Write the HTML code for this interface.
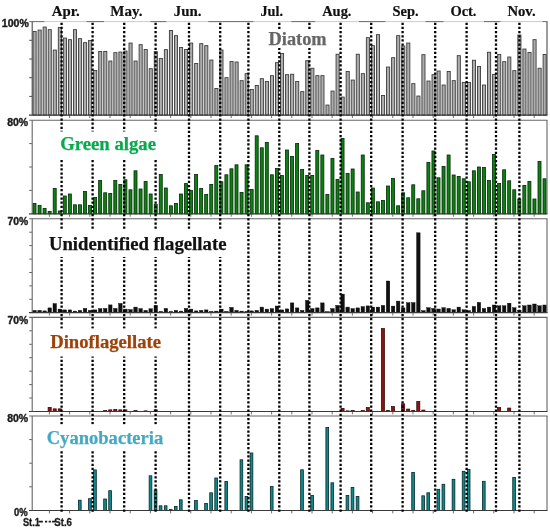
<!DOCTYPE html>
<html lang="en"><head><meta charset="utf-8"><title>Phytoplankton composition</title>
<style>html,body{margin:0;padding:0;background:#fff}svg{display:block}</style></head>
<body>
<svg width="550" height="530" viewBox="0 0 550 530">
<rect width="550" height="530" fill="#fff"/>
<g fill="#adadad" stroke="#3c3c3c" stroke-width="0.9"><rect x="33.05" y="31.45" width="3.10" height="83.65"/><rect x="38.10" y="30.05" width="3.10" height="85.05"/><rect x="43.15" y="27.05" width="3.10" height="88.05"/><rect x="48.20" y="29.65" width="3.10" height="85.45"/><rect x="53.25" y="50.05" width="3.10" height="65.05"/><rect x="58.30" y="27.45" width="3.10" height="87.65"/><rect x="63.35" y="38.05" width="3.10" height="77.05"/><rect x="68.40" y="39.65" width="3.10" height="75.45"/><rect x="73.45" y="29.65" width="3.10" height="85.45"/><rect x="78.50" y="38.65" width="3.10" height="76.45"/><rect x="83.55" y="42.65" width="3.10" height="72.45"/><rect x="88.60" y="40.45" width="3.10" height="74.65"/><rect x="93.65" y="70.45" width="3.10" height="44.65"/><rect x="98.70" y="51.45" width="3.10" height="63.65"/><rect x="103.75" y="51.45" width="3.10" height="63.65"/><rect x="108.80" y="61.05" width="3.10" height="54.05"/><rect x="113.85" y="52.65" width="3.10" height="62.45"/><rect x="118.90" y="52.05" width="3.10" height="63.05"/><rect x="123.95" y="51.05" width="3.10" height="64.05"/><rect x="129.00" y="43.05" width="3.10" height="72.05"/><rect x="134.05" y="61.05" width="3.10" height="54.05"/><rect x="139.10" y="44.65" width="3.10" height="70.45"/><rect x="144.15" y="49.45" width="3.10" height="65.65"/><rect x="149.20" y="68.65" width="3.10" height="46.45"/><rect x="154.25" y="51.65" width="3.10" height="63.45"/><rect x="159.30" y="58.45" width="3.10" height="56.65"/><rect x="164.35" y="49.65" width="3.10" height="65.45"/><rect x="169.40" y="30.45" width="3.10" height="84.65"/><rect x="174.45" y="35.65" width="3.10" height="79.45"/><rect x="179.50" y="47.45" width="3.10" height="67.65"/><rect x="184.55" y="49.45" width="3.10" height="65.65"/><rect x="189.60" y="43.05" width="3.10" height="72.05"/><rect x="194.65" y="63.45" width="3.10" height="51.65"/><rect x="199.70" y="43.65" width="3.10" height="71.45"/><rect x="204.75" y="45.65" width="3.10" height="69.45"/><rect x="209.80" y="60.05" width="3.10" height="55.05"/><rect x="214.85" y="88.45" width="3.10" height="26.65"/><rect x="219.90" y="50.05" width="3.10" height="65.05"/><rect x="224.95" y="77.65" width="3.10" height="37.45"/><rect x="230.00" y="61.45" width="3.10" height="53.65"/><rect x="235.05" y="62.05" width="3.10" height="53.05"/><rect x="240.10" y="80.65" width="3.10" height="34.45"/><rect x="245.15" y="73.65" width="3.10" height="41.45"/><rect x="250.20" y="89.45" width="3.10" height="25.65"/><rect x="255.25" y="85.45" width="3.10" height="29.65"/><rect x="260.30" y="78.65" width="3.10" height="36.45"/><rect x="265.35" y="81.45" width="3.10" height="33.65"/><rect x="270.40" y="75.65" width="3.10" height="39.45"/><rect x="275.45" y="62.65" width="3.10" height="52.45"/><rect x="280.50" y="53.45" width="3.10" height="61.65"/><rect x="285.55" y="74.65" width="3.10" height="40.45"/><rect x="290.60" y="74.25" width="3.10" height="40.85"/><rect x="295.65" y="81.45" width="3.10" height="33.65"/><rect x="300.70" y="91.65" width="3.10" height="23.45"/><rect x="305.75" y="60.65" width="3.10" height="54.45"/><rect x="310.80" y="68.25" width="3.10" height="46.85"/><rect x="315.85" y="75.65" width="3.10" height="39.45"/><rect x="320.90" y="75.65" width="3.10" height="39.45"/><rect x="325.95" y="105.05" width="3.10" height="10.05"/><rect x="331.00" y="91.05" width="3.10" height="24.05"/><rect x="336.05" y="54.25" width="3.10" height="60.85"/><rect x="341.10" y="97.05" width="3.10" height="18.05"/><rect x="346.15" y="71.45" width="3.10" height="43.65"/><rect x="351.20" y="80.05" width="3.10" height="35.05"/><rect x="356.25" y="54.25" width="3.10" height="60.85"/><rect x="361.30" y="73.65" width="3.10" height="41.45"/><rect x="366.35" y="37.65" width="3.10" height="77.45"/><rect x="371.40" y="45.65" width="3.10" height="69.45"/><rect x="376.45" y="34.65" width="3.10" height="80.45"/><rect x="381.50" y="95.45" width="3.10" height="19.65"/><rect x="386.55" y="67.05" width="3.10" height="48.05"/><rect x="391.60" y="57.65" width="3.10" height="57.45"/><rect x="396.65" y="35.65" width="3.10" height="79.45"/><rect x="401.70" y="46.05" width="3.10" height="69.05"/><rect x="406.75" y="43.05" width="3.10" height="72.05"/><rect x="411.80" y="83.65" width="3.10" height="31.45"/><rect x="416.85" y="96.05" width="3.10" height="19.05"/><rect x="421.90" y="54.65" width="3.10" height="60.45"/><rect x="426.95" y="81.05" width="3.10" height="34.05"/><rect x="432.00" y="74.65" width="3.10" height="40.45"/><rect x="437.05" y="71.05" width="3.10" height="44.05"/><rect x="442.10" y="85.05" width="3.10" height="30.05"/><rect x="447.15" y="71.45" width="3.10" height="43.65"/><rect x="452.20" y="80.65" width="3.10" height="34.45"/><rect x="457.25" y="55.65" width="3.10" height="59.45"/><rect x="462.30" y="82.45" width="3.10" height="32.65"/><rect x="467.35" y="82.45" width="3.10" height="32.65"/><rect x="472.40" y="60.25" width="3.10" height="54.85"/><rect x="477.45" y="66.45" width="3.10" height="48.65"/><rect x="482.50" y="85.05" width="3.10" height="30.05"/><rect x="487.55" y="52.25" width="3.10" height="62.85"/><rect x="492.60" y="74.45" width="3.10" height="40.65"/><rect x="497.65" y="54.45" width="3.10" height="60.65"/><rect x="502.70" y="61.65" width="3.10" height="53.45"/><rect x="507.75" y="57.05" width="3.10" height="58.05"/><rect x="512.80" y="70.65" width="3.10" height="44.45"/><rect x="517.85" y="35.05" width="3.10" height="80.05"/><rect x="522.90" y="49.05" width="3.10" height="66.05"/><rect x="527.95" y="52.45" width="3.10" height="62.65"/><rect x="533.00" y="39.65" width="3.10" height="75.45"/><rect x="538.05" y="68.25" width="3.10" height="46.85"/><rect x="543.10" y="54.45" width="3.10" height="60.65"/></g>
<g fill="#0b820f" stroke="#06280a" stroke-width="0.8"><rect x="33.00" y="203.40" width="3.00" height="10.40"/><rect x="38.05" y="205.40" width="3.00" height="8.40"/><rect x="43.10" y="208.40" width="3.00" height="5.40"/><rect x="48.15" y="211.40" width="3.00" height="2.40"/><rect x="53.20" y="188.40" width="3.00" height="25.40"/><rect x="58.25" y="211.00" width="3.00" height="2.80"/><rect x="63.30" y="196.00" width="3.00" height="17.80"/><rect x="68.35" y="194.00" width="3.00" height="19.80"/><rect x="73.40" y="204.80" width="3.00" height="9.00"/><rect x="78.45" y="204.80" width="3.00" height="9.00"/><rect x="83.50" y="191.40" width="3.00" height="22.40"/><rect x="88.55" y="205.40" width="3.00" height="8.40"/><rect x="93.60" y="197.40" width="3.00" height="16.40"/><rect x="98.65" y="180.40" width="3.00" height="33.40"/><rect x="103.70" y="192.80" width="3.00" height="21.00"/><rect x="108.75" y="193.40" width="3.00" height="20.40"/><rect x="113.80" y="180.40" width="3.00" height="33.40"/><rect x="118.85" y="184.40" width="3.00" height="29.40"/><rect x="123.90" y="179.80" width="3.00" height="34.00"/><rect x="128.95" y="189.80" width="3.00" height="24.00"/><rect x="134.00" y="170.80" width="3.00" height="43.00"/><rect x="139.05" y="189.00" width="3.00" height="24.80"/><rect x="144.10" y="181.40" width="3.00" height="32.40"/><rect x="149.15" y="194.00" width="3.00" height="19.80"/><rect x="154.20" y="204.40" width="3.00" height="9.40"/><rect x="159.25" y="174.40" width="3.00" height="39.40"/><rect x="164.30" y="188.00" width="3.00" height="25.80"/><rect x="169.35" y="205.80" width="3.00" height="8.00"/><rect x="174.40" y="203.40" width="3.00" height="10.40"/><rect x="179.45" y="194.00" width="3.00" height="19.80"/><rect x="184.50" y="183.60" width="3.00" height="30.20"/><rect x="189.55" y="190.40" width="3.00" height="23.40"/><rect x="194.60" y="174.40" width="3.00" height="39.40"/><rect x="199.65" y="188.40" width="3.00" height="25.40"/><rect x="204.70" y="194.40" width="3.00" height="19.40"/><rect x="209.75" y="184.40" width="3.00" height="29.40"/><rect x="214.80" y="165.40" width="3.00" height="48.40"/><rect x="219.85" y="181.80" width="3.00" height="32.00"/><rect x="224.90" y="174.80" width="3.00" height="39.00"/><rect x="229.95" y="168.80" width="3.00" height="45.00"/><rect x="235.00" y="164.80" width="3.00" height="49.00"/><rect x="240.05" y="192.40" width="3.00" height="21.40"/><rect x="245.10" y="164.80" width="3.00" height="49.00"/><rect x="250.15" y="189.40" width="3.00" height="24.40"/><rect x="255.20" y="135.80" width="3.00" height="78.00"/><rect x="260.25" y="147.80" width="3.00" height="66.00"/><rect x="265.30" y="142.40" width="3.00" height="71.40"/><rect x="270.35" y="174.80" width="3.00" height="39.00"/><rect x="275.40" y="168.40" width="3.00" height="45.40"/><rect x="280.45" y="175.40" width="3.00" height="38.40"/><rect x="285.50" y="150.00" width="3.00" height="63.80"/><rect x="290.55" y="156.40" width="3.00" height="57.40"/><rect x="295.60" y="143.40" width="3.00" height="70.40"/><rect x="300.65" y="169.40" width="3.00" height="44.40"/><rect x="305.70" y="175.40" width="3.00" height="38.40"/><rect x="310.75" y="175.40" width="3.00" height="38.40"/><rect x="315.80" y="150.40" width="3.00" height="63.40"/><rect x="320.85" y="155.00" width="3.00" height="58.80"/><rect x="325.90" y="194.40" width="3.00" height="19.40"/><rect x="330.95" y="158.40" width="3.00" height="55.40"/><rect x="336.00" y="179.40" width="3.00" height="34.40"/><rect x="341.05" y="138.40" width="3.00" height="75.40"/><rect x="346.10" y="173.40" width="3.00" height="40.40"/><rect x="351.15" y="169.00" width="3.00" height="44.80"/><rect x="356.20" y="192.00" width="3.00" height="21.80"/><rect x="361.25" y="155.00" width="3.00" height="58.80"/><rect x="366.30" y="202.80" width="3.00" height="11.00"/><rect x="371.35" y="188.00" width="3.00" height="25.80"/><rect x="376.40" y="201.80" width="3.00" height="12.00"/><rect x="381.45" y="200.40" width="3.00" height="13.40"/><rect x="386.50" y="186.00" width="3.00" height="27.80"/><rect x="391.55" y="178.40" width="3.00" height="35.40"/><rect x="396.60" y="205.80" width="3.00" height="8.00"/><rect x="401.65" y="192.80" width="3.00" height="21.00"/><rect x="406.70" y="197.80" width="3.00" height="16.00"/><rect x="411.75" y="184.80" width="3.00" height="29.00"/><rect x="416.80" y="198.80" width="3.00" height="15.00"/><rect x="421.85" y="190.80" width="3.00" height="23.00"/><rect x="426.90" y="162.40" width="3.00" height="51.40"/><rect x="431.95" y="151.00" width="3.00" height="62.80"/><rect x="437.00" y="177.80" width="3.00" height="36.00"/><rect x="442.05" y="166.40" width="3.00" height="47.40"/><rect x="447.10" y="155.00" width="3.00" height="58.80"/><rect x="452.15" y="175.00" width="3.00" height="38.80"/><rect x="457.20" y="176.40" width="3.00" height="37.40"/><rect x="462.25" y="178.80" width="3.00" height="35.00"/><rect x="467.30" y="181.80" width="3.00" height="32.00"/><rect x="472.35" y="170.80" width="3.00" height="43.00"/><rect x="477.40" y="167.00" width="3.00" height="46.80"/><rect x="482.45" y="167.40" width="3.00" height="46.40"/><rect x="487.50" y="180.40" width="3.00" height="33.40"/><rect x="492.55" y="154.40" width="3.00" height="59.40"/><rect x="497.60" y="183.40" width="3.00" height="30.40"/><rect x="502.65" y="169.80" width="3.00" height="44.00"/><rect x="507.70" y="180.80" width="3.00" height="33.00"/><rect x="512.75" y="189.80" width="3.00" height="24.00"/><rect x="517.80" y="199.00" width="3.00" height="14.80"/><rect x="522.85" y="185.40" width="3.00" height="28.40"/><rect x="527.90" y="181.40" width="3.00" height="32.40"/><rect x="532.95" y="199.00" width="3.00" height="14.80"/><rect x="538.00" y="161.40" width="3.00" height="52.40"/><rect x="543.05" y="178.80" width="3.00" height="35.00"/></g>
<g fill="#111" stroke="#000" stroke-width="0.4"><rect x="32.80" y="310.40" width="3.50" height="2.30"/><rect x="37.85" y="310.40" width="3.50" height="2.30"/><rect x="42.90" y="310.90" width="3.50" height="1.80"/><rect x="47.95" y="307.90" width="3.50" height="4.80"/><rect x="53.00" y="303.60" width="3.50" height="9.10"/><rect x="58.05" y="309.10" width="3.50" height="3.60"/><rect x="63.10" y="309.90" width="3.50" height="2.80"/><rect x="68.15" y="309.90" width="3.50" height="2.80"/><rect x="73.20" y="311.10" width="3.50" height="1.60"/><rect x="78.25" y="310.40" width="3.50" height="2.30"/><rect x="83.30" y="308.40" width="3.50" height="4.30"/><rect x="88.35" y="310.40" width="3.50" height="2.30"/><rect x="93.40" y="309.90" width="3.50" height="2.80"/><rect x="98.45" y="308.60" width="3.50" height="4.10"/><rect x="103.50" y="308.40" width="3.50" height="4.30"/><rect x="108.55" y="304.90" width="3.50" height="7.80"/><rect x="113.60" y="308.40" width="3.50" height="4.30"/><rect x="118.65" y="303.40" width="3.50" height="9.30"/><rect x="123.70" y="309.10" width="3.50" height="3.60"/><rect x="128.75" y="309.60" width="3.50" height="3.10"/><rect x="133.80" y="307.10" width="3.50" height="5.60"/><rect x="138.85" y="308.60" width="3.50" height="4.10"/><rect x="143.90" y="310.40" width="3.50" height="2.30"/><rect x="148.95" y="308.80" width="3.50" height="3.90"/><rect x="154.00" y="305.40" width="3.50" height="7.30"/><rect x="159.05" y="311.40" width="3.50" height="1.30"/><rect x="164.10" y="308.40" width="3.50" height="4.30"/><rect x="169.15" y="311.40" width="3.50" height="1.30"/><rect x="174.20" y="310.40" width="3.50" height="2.30"/><rect x="179.25" y="311.10" width="3.50" height="1.60"/><rect x="184.30" y="308.40" width="3.50" height="4.30"/><rect x="189.35" y="309.10" width="3.50" height="3.60"/><rect x="194.40" y="310.90" width="3.50" height="1.80"/><rect x="199.45" y="310.40" width="3.50" height="2.30"/><rect x="204.50" y="309.90" width="3.50" height="2.80"/><rect x="209.55" y="311.40" width="3.50" height="1.30"/><rect x="214.60" y="311.10" width="3.50" height="1.60"/><rect x="219.65" y="309.10" width="3.50" height="3.60"/><rect x="224.70" y="311.40" width="3.50" height="1.30"/><rect x="229.75" y="307.40" width="3.50" height="5.30"/><rect x="234.80" y="310.40" width="3.50" height="2.30"/><rect x="239.85" y="311.10" width="3.50" height="1.60"/><rect x="244.90" y="311.40" width="3.50" height="1.30"/><rect x="249.95" y="310.90" width="3.50" height="1.80"/><rect x="255.00" y="310.40" width="3.50" height="2.30"/><rect x="260.05" y="307.10" width="3.50" height="5.60"/><rect x="265.10" y="309.10" width="3.50" height="3.60"/><rect x="270.15" y="308.60" width="3.50" height="4.10"/><rect x="275.20" y="306.00" width="3.50" height="6.70"/><rect x="280.25" y="309.90" width="3.50" height="2.80"/><rect x="285.30" y="308.90" width="3.50" height="3.80"/><rect x="290.35" y="302.90" width="3.50" height="9.80"/><rect x="295.40" y="307.90" width="3.50" height="4.80"/><rect x="300.45" y="310.40" width="3.50" height="2.30"/><rect x="305.50" y="300.40" width="3.50" height="12.30"/><rect x="310.55" y="308.60" width="3.50" height="4.10"/><rect x="315.60" y="307.90" width="3.50" height="4.80"/><rect x="320.65" y="302.90" width="3.50" height="9.80"/><rect x="325.70" y="311.60" width="3.50" height="1.10"/><rect x="330.75" y="308.60" width="3.50" height="4.10"/><rect x="335.80" y="305.40" width="3.50" height="7.30"/><rect x="340.85" y="294.10" width="3.50" height="18.60"/><rect x="345.90" y="307.10" width="3.50" height="5.60"/><rect x="350.95" y="308.60" width="3.50" height="4.10"/><rect x="356.00" y="307.90" width="3.50" height="4.80"/><rect x="361.05" y="306.60" width="3.50" height="6.10"/><rect x="366.10" y="305.90" width="3.50" height="6.80"/><rect x="371.15" y="307.10" width="3.50" height="5.60"/><rect x="376.20" y="307.10" width="3.50" height="5.60"/><rect x="381.25" y="305.40" width="3.50" height="7.30"/><rect x="386.30" y="281.00" width="3.50" height="31.70"/><rect x="391.35" y="306.10" width="3.50" height="6.60"/><rect x="396.40" y="301.10" width="3.50" height="11.60"/><rect x="401.45" y="307.90" width="3.50" height="4.80"/><rect x="406.50" y="302.70" width="3.50" height="10.00"/><rect x="411.55" y="302.60" width="3.50" height="10.10"/><rect x="416.60" y="232.80" width="3.50" height="79.90"/><rect x="421.65" y="310.60" width="3.50" height="2.10"/><rect x="426.70" y="307.70" width="3.50" height="5.00"/><rect x="431.75" y="308.40" width="3.50" height="4.30"/><rect x="436.80" y="309.00" width="3.50" height="3.70"/><rect x="441.85" y="307.70" width="3.50" height="5.00"/><rect x="446.90" y="308.40" width="3.50" height="4.30"/><rect x="451.95" y="309.80" width="3.50" height="2.90"/><rect x="457.00" y="307.10" width="3.50" height="5.60"/><rect x="462.05" y="309.80" width="3.50" height="2.90"/><rect x="467.10" y="310.60" width="3.50" height="2.10"/><rect x="472.15" y="306.40" width="3.50" height="6.30"/><rect x="477.20" y="302.40" width="3.50" height="10.30"/><rect x="482.25" y="308.40" width="3.50" height="4.30"/><rect x="487.30" y="307.10" width="3.50" height="5.60"/><rect x="492.35" y="305.00" width="3.50" height="7.70"/><rect x="497.40" y="305.80" width="3.50" height="6.90"/><rect x="502.45" y="305.80" width="3.50" height="6.90"/><rect x="507.50" y="303.20" width="3.50" height="9.50"/><rect x="512.55" y="307.70" width="3.50" height="5.00"/><rect x="517.60" y="310.40" width="3.50" height="2.30"/><rect x="522.65" y="305.80" width="3.50" height="6.90"/><rect x="527.70" y="305.00" width="3.50" height="7.70"/><rect x="532.75" y="304.00" width="3.50" height="8.70"/><rect x="537.80" y="305.80" width="3.50" height="6.90"/><rect x="542.85" y="305.00" width="3.50" height="7.70"/></g>
<g fill="#8a1210" stroke="#2a0504" stroke-width="0.7"><rect x="48.10" y="407.35" width="3.10" height="4.15"/><rect x="53.15" y="408.85" width="3.10" height="2.65"/><rect x="58.20" y="408.85" width="3.10" height="2.65"/><rect x="103.65" y="410.55" width="3.10" height="0.95"/><rect x="108.70" y="409.85" width="3.10" height="1.65"/><rect x="113.75" y="409.35" width="3.10" height="2.15"/><rect x="118.80" y="409.85" width="3.10" height="1.65"/><rect x="123.85" y="409.85" width="3.10" height="1.65"/><rect x="133.95" y="410.55" width="3.10" height="0.95"/><rect x="144.05" y="410.85" width="3.10" height="0.65"/><rect x="154.15" y="409.85" width="3.10" height="1.65"/><rect x="341.00" y="408.35" width="3.10" height="3.15"/><rect x="346.05" y="410.85" width="3.10" height="0.65"/><rect x="351.10" y="410.35" width="3.10" height="1.15"/><rect x="361.20" y="410.55" width="3.10" height="0.95"/><rect x="366.25" y="407.55" width="3.10" height="3.95"/><rect x="381.40" y="328.55" width="3.10" height="82.95"/><rect x="386.45" y="410.35" width="3.10" height="1.15"/><rect x="391.50" y="406.55" width="3.10" height="4.95"/><rect x="401.60" y="403.85" width="3.10" height="7.65"/><rect x="406.65" y="409.05" width="3.10" height="2.45"/><rect x="411.70" y="410.35" width="3.10" height="1.15"/><rect x="416.75" y="401.35" width="3.10" height="10.15"/><rect x="421.80" y="410.05" width="3.10" height="1.45"/><rect x="497.55" y="407.55" width="3.10" height="3.95"/><rect x="507.65" y="408.05" width="3.10" height="3.45"/></g>
<g fill="#0f888c" stroke="#06282a" stroke-width="0.8"><rect x="78.45" y="500.20" width="2.70" height="10.30"/><rect x="88.55" y="498.70" width="2.70" height="11.80"/><rect x="93.60" y="469.90" width="2.70" height="40.60"/><rect x="103.70" y="499.00" width="2.70" height="11.50"/><rect x="108.75" y="490.70" width="2.70" height="19.80"/><rect x="149.15" y="475.80" width="2.70" height="34.70"/><rect x="154.20" y="490.00" width="2.70" height="20.50"/><rect x="159.25" y="505.80" width="2.70" height="4.70"/><rect x="164.30" y="505.80" width="2.70" height="4.70"/><rect x="169.35" y="509.40" width="2.70" height="1.10"/><rect x="174.40" y="506.40" width="2.70" height="4.10"/><rect x="179.45" y="499.80" width="2.70" height="10.70"/><rect x="194.60" y="500.40" width="2.70" height="10.10"/><rect x="204.70" y="503.40" width="2.70" height="7.10"/><rect x="209.75" y="492.80" width="2.70" height="17.70"/><rect x="214.80" y="478.00" width="2.70" height="32.50"/><rect x="224.90" y="481.40" width="2.70" height="29.10"/><rect x="240.05" y="459.80" width="2.70" height="50.70"/><rect x="245.10" y="496.40" width="2.70" height="14.10"/><rect x="250.15" y="453.00" width="2.70" height="57.50"/><rect x="270.35" y="486.40" width="2.70" height="24.10"/><rect x="300.65" y="469.80" width="2.70" height="40.70"/><rect x="310.75" y="495.40" width="2.70" height="15.10"/><rect x="325.90" y="427.40" width="2.70" height="83.10"/><rect x="330.95" y="482.80" width="2.70" height="27.70"/><rect x="346.10" y="495.40" width="2.70" height="15.10"/><rect x="351.15" y="487.40" width="2.70" height="23.10"/><rect x="356.20" y="496.40" width="2.70" height="14.10"/><rect x="411.75" y="472.40" width="2.70" height="38.10"/><rect x="421.85" y="495.80" width="2.70" height="14.70"/><rect x="426.90" y="492.80" width="2.70" height="17.70"/><rect x="437.00" y="489.30" width="2.70" height="21.20"/><rect x="442.05" y="484.30" width="2.70" height="26.20"/><rect x="452.15" y="479.30" width="2.70" height="31.20"/><rect x="462.25" y="471.30" width="2.70" height="39.20"/><rect x="467.30" y="469.50" width="2.70" height="41.00"/><rect x="482.45" y="481.30" width="2.70" height="29.20"/><rect x="512.75" y="477.40" width="2.70" height="33.10"/></g>
<path d="M32.2 21.6V115.1 M547.0 21.6V115.1" stroke="#4c4c4c" stroke-width="1.1" fill="none"/>
<path d="M29.0 115.1H547.5" stroke="#3a3a3a" stroke-width="1.2" fill="none"/>
<path d="M29.2 40.3H32.2M29.2 59.0H32.2M29.2 77.7H32.2M29.2 96.4H32.2" stroke="#4c4c4c" stroke-width="1" fill="none"/>
<path d="M49.4 115.6v2.4M69.6 115.6v2.4M89.8 115.6v2.4M110.0 115.6v2.4M130.2 115.6v2.4M150.4 115.6v2.4M170.6 115.6v2.4M190.8 115.6v2.4M211.0 115.6v2.4M231.2 115.6v2.4M251.4 115.6v2.4M271.6 115.6v2.4M291.8 115.6v2.4M312.0 115.6v2.4M332.2 115.6v2.4M352.4 115.6v2.4M372.6 115.6v2.4M392.8 115.6v2.4M413.0 115.6v2.4M433.2 115.6v2.4M453.4 115.6v2.4M473.6 115.6v2.4M493.8 115.6v2.4M514.0 115.6v2.4M534.2 115.6v2.4" stroke="#4a4a4a" stroke-width="0.8" fill="none"/>
<path d="M32.2 120.2V213.8 M547.0 120.2V213.8" stroke="#666" stroke-width="1.1" fill="none"/>
<path d="M29.2 120.2H547.5" stroke="#666" stroke-width="1.1" fill="none"/>
<path d="M29.0 213.8H547.5" stroke="#3a3a3a" stroke-width="1.2" fill="none"/>
<path d="M29.2 143.6H32.2M29.2 167.0H32.2M29.2 190.4H32.2" stroke="#666" stroke-width="1" fill="none"/>
<path d="M49.4 214.3v2.4M69.6 214.3v2.4M89.8 214.3v2.4M110.0 214.3v2.4M130.2 214.3v2.4M150.4 214.3v2.4M170.6 214.3v2.4M190.8 214.3v2.4M211.0 214.3v2.4M231.2 214.3v2.4M251.4 214.3v2.4M271.6 214.3v2.4M291.8 214.3v2.4M312.0 214.3v2.4M332.2 214.3v2.4M352.4 214.3v2.4M372.6 214.3v2.4M392.8 214.3v2.4M413.0 214.3v2.4M433.2 214.3v2.4M453.4 214.3v2.4M473.6 214.3v2.4M493.8 214.3v2.4M514.0 214.3v2.4M534.2 214.3v2.4" stroke="#4a4a4a" stroke-width="0.8" fill="none"/>
<path d="M32.2 218.8V312.7 M547.0 218.8V312.7" stroke="#666" stroke-width="1.1" fill="none"/>
<path d="M29.2 218.8H547.5" stroke="#666" stroke-width="1.1" fill="none"/>
<path d="M29.0 312.7H547.5" stroke="#3a3a3a" stroke-width="1.2" fill="none"/>
<path d="M29.2 232.2H32.2M29.2 245.6H32.2M29.2 259.1H32.2M29.2 272.5H32.2M29.2 285.9H32.2M29.2 299.3H32.2" stroke="#666" stroke-width="1" fill="none"/>
<path d="M49.4 313.2v2.4M69.6 313.2v2.4M89.8 313.2v2.4M110.0 313.2v2.4M130.2 313.2v2.4M150.4 313.2v2.4M170.6 313.2v2.4M190.8 313.2v2.4M211.0 313.2v2.4M231.2 313.2v2.4M251.4 313.2v2.4M271.6 313.2v2.4M291.8 313.2v2.4M312.0 313.2v2.4M332.2 313.2v2.4M352.4 313.2v2.4M372.6 313.2v2.4M392.8 313.2v2.4M413.0 313.2v2.4M433.2 313.2v2.4M453.4 313.2v2.4M473.6 313.2v2.4M493.8 313.2v2.4M514.0 313.2v2.4M534.2 313.2v2.4" stroke="#4a4a4a" stroke-width="0.8" fill="none"/>
<path d="M32.2 317.4V411.5 M547.0 317.4V411.5" stroke="#666" stroke-width="1.1" fill="none"/>
<path d="M29.2 317.4H547.5" stroke="#666" stroke-width="1.1" fill="none"/>
<path d="M29.0 411.5H547.5" stroke="#3a3a3a" stroke-width="1.2" fill="none"/>
<path d="M29.2 330.8H32.2M29.2 344.3H32.2M29.2 357.7H32.2M29.2 371.2H32.2M29.2 384.6H32.2M29.2 398.0H32.2" stroke="#666" stroke-width="1" fill="none"/>
<path d="M49.4 412.0v2.4M69.6 412.0v2.4M89.8 412.0v2.4M110.0 412.0v2.4M130.2 412.0v2.4M150.4 412.0v2.4M170.6 412.0v2.4M190.8 412.0v2.4M211.0 412.0v2.4M231.2 412.0v2.4M251.4 412.0v2.4M271.6 412.0v2.4M291.8 412.0v2.4M312.0 412.0v2.4M332.2 412.0v2.4M352.4 412.0v2.4M372.6 412.0v2.4M392.8 412.0v2.4M413.0 412.0v2.4M433.2 412.0v2.4M453.4 412.0v2.4M473.6 412.0v2.4M493.8 412.0v2.4M514.0 412.0v2.4M534.2 412.0v2.4" stroke="#4a4a4a" stroke-width="0.8" fill="none"/>
<path d="M32.2 416.0V510.5 M547.0 416.0V510.5" stroke="#666" stroke-width="1.1" fill="none"/>
<path d="M29.2 416.0H547.5" stroke="#666" stroke-width="1.1" fill="none"/>
<path d="M29.0 510.5H547.5" stroke="#3a3a3a" stroke-width="1.2" fill="none"/>
<path d="M29.2 439.6H32.2M29.2 463.2H32.2M29.2 486.8H32.2" stroke="#666" stroke-width="1" fill="none"/>
<path d="M49.4 511.0v2.4M69.6 511.0v2.4M89.8 511.0v2.4M110.0 511.0v2.4M130.2 511.0v2.4M150.4 511.0v2.4M170.6 511.0v2.4M190.8 511.0v2.4M211.0 511.0v2.4M231.2 511.0v2.4M251.4 511.0v2.4M271.6 511.0v2.4M291.8 511.0v2.4M312.0 511.0v2.4M332.2 511.0v2.4M352.4 511.0v2.4M372.6 511.0v2.4M392.8 511.0v2.4M413.0 511.0v2.4M433.2 511.0v2.4M453.4 511.0v2.4M473.6 511.0v2.4M493.8 511.0v2.4M514.0 511.0v2.4M534.2 511.0v2.4" stroke="#4a4a4a" stroke-width="0.8" fill="none"/>
<path d="M32 21.6H547" stroke="#a8a8a8" stroke-width="0.6" fill="none"/>
<path d="M29.2 21.6H44.3M86.5 21.6H104.0M150.4 21.6H166.3M208.2 21.6H253.4M291.3 21.6H315.1M359.0 21.6H385.4M425.5 21.6H443.5M484.0 21.6H500.5M542.5 21.6H547.5" stroke="#707070" stroke-width="1" fill="none"/>
<path d="M61.6 22.7V513.3M92.6 22.7V513.3M124.2 22.7V513.3M155.6 22.7V513.3M189.0 22.7V513.3M220.2 22.7V513.3M248.4 22.7V513.3M279.3 22.7V513.3M309.4 22.7V513.3M340.6 22.7V513.3M371.2 22.7V513.3M402.6 22.7V513.3M435.2 22.7V513.3M466.6 22.7V513.3M496.0 22.7V513.3M519.4 22.7V513.3" stroke="#000" stroke-width="2.3" stroke-dasharray="2.25 1.91" fill="none"/>
<rect x="255" y="29.8" width="80" height="18.2" fill="#fff"/>
<rect x="47" y="131.5" width="123" height="27" fill="#fff"/>
<rect x="38" y="230" width="197" height="27" fill="#fff"/>
<rect x="40" y="328.5" width="130" height="28" fill="#fff"/>
<rect x="40" y="424.5" width="130" height="26" fill="#fff"/>
<text x="51.8" y="15.5" font-family="'Liberation Serif', serif" font-weight="bold" font-size="14.8" fill="#111" text-anchor="start" stroke="#111" stroke-width="0.2" textLength="27.9" lengthAdjust="spacingAndGlyphs">Apr.</text>
<text x="110.3" y="15.5" font-family="'Liberation Serif', serif" font-weight="bold" font-size="14.8" fill="#111" text-anchor="start" stroke="#111" stroke-width="0.2" textLength="32.1" lengthAdjust="spacingAndGlyphs">May.</text>
<text x="173.8" y="15.5" font-family="'Liberation Serif', serif" font-weight="bold" font-size="14.8" fill="#111" text-anchor="start" stroke="#111" stroke-width="0.2" textLength="27.6" lengthAdjust="spacingAndGlyphs">Jun.</text>
<text x="260.4" y="15.5" font-family="'Liberation Serif', serif" font-weight="bold" font-size="14.8" fill="#111" text-anchor="start" stroke="#111" stroke-width="0.2" textLength="22.6" lengthAdjust="spacingAndGlyphs">Jul.</text>
<text x="322.2" y="15.5" font-family="'Liberation Serif', serif" font-weight="bold" font-size="14.8" fill="#111" text-anchor="start" stroke="#111" stroke-width="0.2" textLength="29.3" lengthAdjust="spacingAndGlyphs">Aug.</text>
<text x="392.5" y="15.5" font-family="'Liberation Serif', serif" font-weight="bold" font-size="14.8" fill="#111" text-anchor="start" stroke="#111" stroke-width="0.2" textLength="26.1" lengthAdjust="spacingAndGlyphs">Sep.</text>
<text x="450.4" y="15.5" font-family="'Liberation Serif', serif" font-weight="bold" font-size="14.8" fill="#111" text-anchor="start" stroke="#111" stroke-width="0.2" textLength="26.1" lengthAdjust="spacingAndGlyphs">Oct.</text>
<text x="507.4" y="15.5" font-family="'Liberation Serif', serif" font-weight="bold" font-size="14.8" fill="#111" text-anchor="start" stroke="#111" stroke-width="0.2" textLength="28.2" lengthAdjust="spacingAndGlyphs">Nov.</text>
<text x="268.6" y="45.3" font-family="'Liberation Serif', serif" font-weight="bold" font-size="18.7" fill="#666" text-anchor="start" stroke="#666" stroke-width="0.25" textLength="58.0" lengthAdjust="spacingAndGlyphs">Diatom</text>
<text x="60.2" y="150.1" font-family="'Liberation Serif', serif" font-weight="bold" font-size="18.5" fill="#0aa84f" text-anchor="start" stroke="#0aa84f" stroke-width="0.25" textLength="95.8" lengthAdjust="spacingAndGlyphs">Green algae</text>
<text x="48.9" y="249.8" font-family="'Liberation Serif', serif" font-weight="bold" font-size="18.7" fill="#111" text-anchor="start" stroke="#111" stroke-width="0.25" textLength="177.6" lengthAdjust="spacingAndGlyphs">Unidentified flagellate</text>
<text x="50.2" y="347.6" font-family="'Liberation Serif', serif" font-weight="bold" font-size="18.7" fill="#9e4209" text-anchor="start" stroke="#9e4209" stroke-width="0.25" textLength="110.8" lengthAdjust="spacingAndGlyphs">Dinoflagellate</text>
<text x="46.7" y="443.5" font-family="'Liberation Serif', serif" font-weight="bold" font-size="18.7" fill="#45a9c4" text-anchor="start" stroke="#45a9c4" stroke-width="0.25" textLength="116.6" lengthAdjust="spacingAndGlyphs">Cyanobacteria</text>
<text x="1.8" y="26.8" font-family="'Liberation Sans', sans-serif" font-weight="bold" font-size="10.4" fill="#1c1c1c" text-anchor="start" stroke="#1c1c1c" stroke-width="0.4" textLength="27.0" lengthAdjust="spacingAndGlyphs">100%</text>
<text x="7.2" y="125.7" font-family="'Liberation Sans', sans-serif" font-weight="bold" font-size="10.4" fill="#1c1c1c" text-anchor="start" stroke="#1c1c1c" stroke-width="0.4" textLength="21.0" lengthAdjust="spacingAndGlyphs">80%</text>
<text x="7.4" y="225.3" font-family="'Liberation Sans', sans-serif" font-weight="bold" font-size="10.4" fill="#1c1c1c" text-anchor="start" stroke="#1c1c1c" stroke-width="0.4" textLength="20.7" lengthAdjust="spacingAndGlyphs">70%</text>
<text x="7.4" y="323.5" font-family="'Liberation Sans', sans-serif" font-weight="bold" font-size="10.4" fill="#1c1c1c" text-anchor="start" stroke="#1c1c1c" stroke-width="0.4" textLength="20.7" lengthAdjust="spacingAndGlyphs">70%</text>
<text x="7.2" y="421.9" font-family="'Liberation Sans', sans-serif" font-weight="bold" font-size="10.4" fill="#1c1c1c" text-anchor="start" stroke="#1c1c1c" stroke-width="0.4" textLength="21.0" lengthAdjust="spacingAndGlyphs">80%</text>
<text x="14.1" y="515.6" font-family="'Liberation Sans', sans-serif" font-weight="bold" font-size="10.4" fill="#1c1c1c" text-anchor="start" stroke="#1c1c1c" stroke-width="0.4" textLength="13.7" lengthAdjust="spacingAndGlyphs">0%</text>
<text x="22.9" y="526.3" font-family="'Liberation Sans', sans-serif" font-weight="bold" font-size="10.6" fill="#1c1c1c" text-anchor="start" stroke="#1c1c1c" stroke-width="0.3" textLength="17.0" lengthAdjust="spacingAndGlyphs">St.1</text>
<text x="54.2" y="526.3" font-family="'Liberation Sans', sans-serif" font-weight="bold" font-size="10.6" fill="#1c1c1c" text-anchor="start" stroke="#1c1c1c" stroke-width="0.3" textLength="17.8" lengthAdjust="spacingAndGlyphs">St.6</text>
<path d="M38.5 520.7h4.4v1.7h-4.4zM45 520.7h2.2v1.7h-2.2zM48.7 520.7h2.2v1.7h-2.2zM52 520.7h3.7v1.7h-3.7z" fill="#1c1c1c"/>
</svg>
</body></html>
